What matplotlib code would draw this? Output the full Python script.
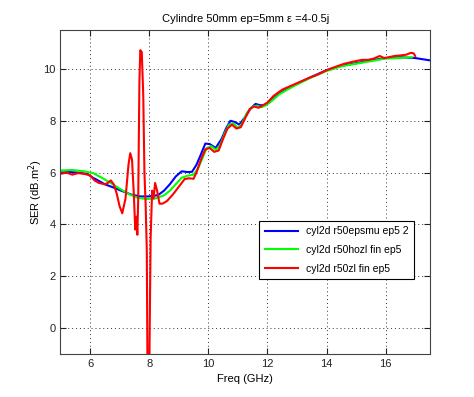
import matplotlib
matplotlib.use('Agg')
import matplotlib.pyplot as plt

plt.rcParams['font.family'] = ['Liberation Sans', 'DejaVu Sans']

# blue: cyl2d r50epsmu ep5 2
f_blue = [5.0, 5.3, 5.6, 5.9, 6.1, 6.3, 6.5, 6.8, 7.1, 7.4, 7.7, 8.0, 8.3, 8.5, 8.7, 8.9,
          9.1, 9.3, 9.45, 9.6, 9.75, 9.9, 10.05, 10.25, 10.45, 10.6, 10.75, 10.9, 11.05,
          11.25, 11.45, 11.6, 11.75, 11.9, 12.1, 12.4, 12.7, 13.0, 13.5, 14.0, 14.5, 15.0,
          15.5, 16.0, 16.5, 17.0, 17.5]
v_blue = [6.0, 6.02, 6.0, 5.95, 5.8, 5.68, 5.55, 5.42, 5.28, 5.15, 5.08, 5.08, 5.13, 5.3,
          5.55, 5.85, 6.05, 6.02, 6.03, 6.3, 6.7, 7.12, 7.1, 6.95, 7.3, 7.7, 8.0, 7.95, 7.85,
          8.15, 8.5, 8.65, 8.6, 8.6, 8.75, 9.05, 9.25, 9.42, 9.7, 9.95, 10.12, 10.22, 10.33,
          10.42, 10.45, 10.42, 10.33]

# green: cyl2d r50hozl fin ep5
f_green = [5.0, 5.4, 5.8, 6.1, 6.4, 6.7, 7.0, 7.3, 7.6, 7.9, 8.2, 8.5, 8.7, 8.9, 9.1, 9.3,
           9.5, 9.65, 9.8, 9.95, 10.1, 10.25, 10.4, 10.55, 10.7, 10.85, 11.0, 11.15, 11.3,
           11.5, 11.65, 11.8, 11.95, 12.1, 12.4, 12.7, 13.0, 13.5, 14.0, 14.5, 15.0, 15.5,
           16.0, 16.5, 16.9]
v_green = [6.08, 6.1, 6.05, 5.98, 5.8, 5.6, 5.38, 5.18, 5.03, 4.98, 5.0, 5.12, 5.3, 5.55,
           5.8, 5.88, 5.92, 6.15, 6.55, 6.95, 7.02, 6.88, 7.05, 7.5, 7.85, 7.9, 7.72, 7.9,
           8.3, 8.55, 8.58, 8.52, 8.6, 8.72, 9.02, 9.22, 9.4, 9.68, 9.92, 10.1, 10.2, 10.3,
           10.4, 10.42, 10.45]

# red: cyl2d r50zl fin ep5
f_red = [5.0, 5.2, 5.4, 5.6, 5.8, 6.0, 6.15, 6.3, 6.5, 6.6, 6.7, 6.8, 6.9, 7.0, 7.09, 7.2,
         7.3, 7.36, 7.42, 7.48, 7.53, 7.57, 7.6, 7.63, 7.67, 7.7, 7.75, 7.8, 7.84, 7.88, 7.92,
         7.95, 7.98, 8.01, 8.05, 8.1, 8.15, 8.2, 8.27, 8.35, 8.45, 8.6, 8.8, 9.0, 9.2, 9.35,
         9.5, 9.6, 9.75, 9.9, 10.05, 10.2, 10.35, 10.5, 10.65, 10.8, 10.95, 11.1, 11.25,
         11.4, 11.55, 11.7, 11.85, 12.0, 12.2, 12.5, 12.8, 13.1, 13.4, 13.7, 14.0, 14.3,
         14.6, 14.9, 15.2, 15.4, 15.6, 15.8, 15.95, 16.1, 16.3, 16.5, 16.7, 16.85, 16.95, 17.0]
v_red = [5.95, 6.0, 5.92, 5.98, 5.95, 5.9, 5.7, 5.6, 5.55, 5.6, 5.7, 5.55, 5.2, 4.7, 4.43,
         5.0, 6.3, 6.75, 6.5, 5.2, 3.8, 4.3, 3.6, 5.0, 9.5, 10.72, 10.65, 9.0, 6.0, 4.8, 3.0,
         -3.0, -4.0, -1.0, 3.5, 5.3, 5.0, 5.6, 5.3, 4.8, 4.8, 4.9, 5.15, 5.45, 5.75, 5.78,
         5.76, 6.0, 6.5, 6.9, 6.95, 6.8, 6.85, 7.3, 7.7, 7.85, 7.7, 7.75, 8.1, 8.45, 8.55,
         8.5, 8.6, 8.7, 8.95, 9.2, 9.35, 9.5, 9.65, 9.78, 9.95, 10.08, 10.2, 10.28, 10.35,
         10.35, 10.4, 10.5, 10.42, 10.45, 10.5, 10.52, 10.55, 10.62, 10.6, 10.5]

labels = ['cyl2d r50epsmu ep5 2', 'cyl2d r50hozl fin ep5', 'cyl2d r50zl fin ep5']
xticks = [6, 8, 10, 12, 14, 16]
yticks = [0, 2, 4, 6, 8, 10]

fig = plt.figure(figsize=(4.74, 3.97), dpi=100)
ax = fig.add_axes([0.1276, 0.1083, 0.7795, 0.816])

ax.plot(f_blue, v_blue, color='#0000ff', lw=1.5, label=labels[0])
ax.plot(f_green, v_green, color='#00ff00', lw=1.5, label=labels[1])
ax.plot(f_red, v_red, color='#ff0000', lw=1.5, label=labels[2])

ax.set_xlim(5, 17.5)
ax.set_ylim(-1, 11.5)
ax.set_xticks(xticks)
ax.set_yticks(yticks)
ax.grid(color='#333333', linestyle=(0, (1, 3)), linewidth=0.7)
ax.tick_params(direction='in', top=True, right=True, length=4, labelsize=8, colors='#222222')
for s in ax.spines.values():
    s.set_color('#444444')

ax.set_xlabel('Freq (GHz)', fontsize=8)
ax.set_ylabel('SER (dB.m$^2$)', fontsize=8, labelpad=-1)
ax.set_title('Cylindre 50mm ep=5mm ε =4-0.5j', fontsize=8)

leg = ax.legend(loc='lower right', bbox_to_anchor=(0.957, 0.231), fontsize=7.5,
                fancybox=False, framealpha=1, edgecolor='black', borderaxespad=0,
                handlelength=3.2, labelspacing=0.85, borderpad=0.5)
leg.get_frame().set_linewidth(0.8)

plt.savefig('out.png', dpi=100)
plt.close()
